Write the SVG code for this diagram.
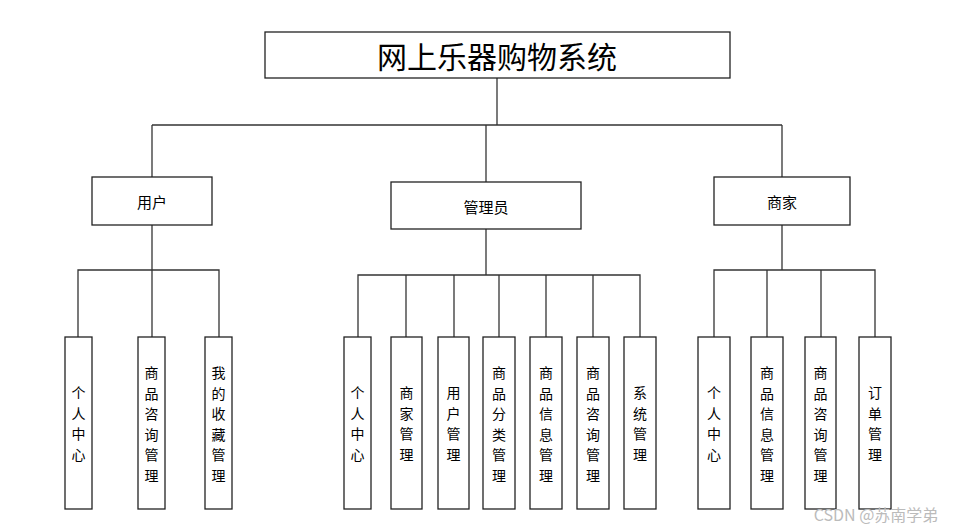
<svg xmlns="http://www.w3.org/2000/svg" width="958" height="532" viewBox="0 0 958 532">
<style>
rect{fill:#fff;stroke:#222;stroke-width:1.3}
.c line,.c polyline{stroke:#333;stroke-width:1.3;fill:none}
text{font-family:"Noto Sans CJK SC",sans-serif;fill:#000;text-anchor:middle;dominant-baseline:central}
.m{font-size:15px}
.v{font-size:14px}
</style>
<rect x="0" y="0" width="958" height="532" style="fill:#fff;stroke:none"/>
<g class="c">
<line x1="497" y1="78" x2="497" y2="125"/>
<line x1="152" y1="125" x2="782" y2="125"/>
<line x1="152" y1="125" x2="152" y2="177"/>
<line x1="486" y1="125" x2="486" y2="182"/>
<line x1="782" y1="125" x2="782" y2="177"/>
<line x1="152" y1="225" x2="152" y2="270"/>
<polyline points="78,337 78,270 219,270 219,337"/>
<line x1="152" y1="270" x2="152" y2="337"/>
<line x1="486" y1="229" x2="486" y2="275"/>
<polyline points="358,337 358,275 640,275 640,337"/>
<line x1="406" y1="275" x2="406" y2="337"/>
<line x1="454" y1="275" x2="454" y2="337"/>
<line x1="499" y1="275" x2="499" y2="337"/>
<line x1="546" y1="275" x2="546" y2="337"/>
<line x1="593" y1="275" x2="593" y2="337"/>
<line x1="782" y1="225" x2="782" y2="270"/>
<polyline points="714,337 714,270 875,270 875,337"/>
<line x1="767" y1="270" x2="767" y2="337"/>
<line x1="821" y1="270" x2="821" y2="337"/>
</g>
<g id="root"><rect x="265" y="32" width="465" height="46"/><text x="497" y="55" style="font-size:30px">网上乐器购物系统</text></g>
<g id="user"><rect x="92" y="177" width="120" height="48"/><text class="m" x="152" y="201">用户</text></g>
<g id="admin"><rect x="391" y="182" width="190" height="47"/><text class="m" x="486" y="206">管理员</text></g>
<g id="merchant"><rect x="714" y="177" width="136" height="48"/><text class="m" x="782" y="201">商家</text></g>

<g id="u1"><rect x="65" y="337" width="27" height="172"/><text class="v" x="78.5"><tspan x="78.5" y="392">个</tspan><tspan x="78.5" y="412.5">人</tspan><tspan x="78.5" y="433">中</tspan><tspan x="78.5" y="453.5">心</tspan></text></g>
<g id="u2"><rect x="138" y="337" width="27" height="172"/><text class="v"><tspan x="151.5" y="372">商</tspan><tspan x="151.5" y="392.5">品</tspan><tspan x="151.5" y="413">咨</tspan><tspan x="151.5" y="433.5">询</tspan><tspan x="151.5" y="454">管</tspan><tspan x="151.5" y="474.5">理</tspan></text></g>
<g id="u3"><rect x="205" y="337" width="27" height="172"/><text class="v"><tspan x="218.5" y="372">我</tspan><tspan x="218.5" y="392.5">的</tspan><tspan x="218.5" y="413">收</tspan><tspan x="218.5" y="433.5">藏</tspan><tspan x="218.5" y="454">管</tspan><tspan x="218.5" y="474.5">理</tspan></text></g>

<g id="a1"><rect x="344" y="337" width="27" height="172"/><text class="v"><tspan x="357.5" y="392">个</tspan><tspan x="357.5" y="412.5">人</tspan><tspan x="357.5" y="433">中</tspan><tspan x="357.5" y="453.5">心</tspan></text></g>
<g id="a2"><rect x="391" y="337" width="31" height="172"/><text class="v"><tspan x="406.5" y="392">商</tspan><tspan x="406.5" y="412.5">家</tspan><tspan x="406.5" y="433">管</tspan><tspan x="406.5" y="453.5">理</tspan></text></g>
<g id="a3"><rect x="438" y="337" width="31" height="172"/><text class="v"><tspan x="453.5" y="392">用</tspan><tspan x="453.5" y="412.5">户</tspan><tspan x="453.5" y="433">管</tspan><tspan x="453.5" y="453.5">理</tspan></text></g>
<g id="a4"><rect x="483" y="337" width="32" height="172"/><text class="v"><tspan x="499" y="372">商</tspan><tspan x="499" y="392.5">品</tspan><tspan x="499" y="413">分</tspan><tspan x="499" y="433.5">类</tspan><tspan x="499" y="454">管</tspan><tspan x="499" y="474.5">理</tspan></text></g>
<g id="a5"><rect x="530" y="337" width="32" height="172"/><text class="v"><tspan x="546" y="372">商</tspan><tspan x="546" y="392.5">品</tspan><tspan x="546" y="413">信</tspan><tspan x="546" y="433.5">息</tspan><tspan x="546" y="454">管</tspan><tspan x="546" y="474.5">理</tspan></text></g>
<g id="a6"><rect x="577" y="337" width="32" height="172"/><text class="v"><tspan x="593" y="372">商</tspan><tspan x="593" y="392.5">品</tspan><tspan x="593" y="413">咨</tspan><tspan x="593" y="433.5">询</tspan><tspan x="593" y="454">管</tspan><tspan x="593" y="474.5">理</tspan></text></g>
<g id="a7"><rect x="624" y="337" width="32" height="172"/><text class="v"><tspan x="640" y="392">系</tspan><tspan x="640" y="412.5">统</tspan><tspan x="640" y="433">管</tspan><tspan x="640" y="453.5">理</tspan></text></g>

<g id="m1"><rect x="698" y="337" width="32" height="172"/><text class="v"><tspan x="714" y="392">个</tspan><tspan x="714" y="412.5">人</tspan><tspan x="714" y="433">中</tspan><tspan x="714" y="453.5">心</tspan></text></g>
<g id="m2"><rect x="751" y="337" width="32" height="172"/><text class="v"><tspan x="767" y="372">商</tspan><tspan x="767" y="392.5">品</tspan><tspan x="767" y="413">信</tspan><tspan x="767" y="433.5">息</tspan><tspan x="767" y="454">管</tspan><tspan x="767" y="474.5">理</tspan></text></g>
<g id="m3"><rect x="805" y="337" width="31" height="172"/><text class="v"><tspan x="820.5" y="372">商</tspan><tspan x="820.5" y="392.5">品</tspan><tspan x="820.5" y="413">咨</tspan><tspan x="820.5" y="433.5">询</tspan><tspan x="820.5" y="454">管</tspan><tspan x="820.5" y="474.5">理</tspan></text></g>
<g id="m4"><rect x="859" y="337" width="32" height="172"/><text class="v"><tspan x="875" y="392">订</tspan><tspan x="875" y="412.5">单</tspan><tspan x="875" y="433">管</tspan><tspan x="875" y="453.5">理</tspan></text></g>

<text x="876" y="514" style="font-size:16px;fill:#bbb">CSDN @苏南学弟</text>
</svg>
